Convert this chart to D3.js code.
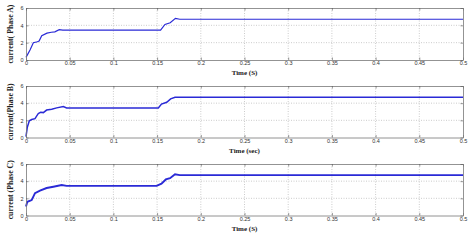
<!DOCTYPE html>
<html>
<head>
<meta charset="utf-8">
<script src="https://cdn.jsdelivr.net/npm/d3@7"></script>
<style>
  body { margin: 0; background: #fff; }
  svg { display: block; }
  .tick text { font-family: Arial, "Liberation Sans", sans-serif; font-size: 5.5px; fill: #333; }
  .lbl { font-family: "Liberation Serif", "DejaVu Serif", serif; font-weight: bold; font-size: 7px; fill: #222; }
  .ylbl { font-size: 7.8px; }
</style>
</head>
<body>
<script>
// time (s) and current values
const phaseA = [[0,0.3],[0.0046,1.15],[0.0084,2.0],[0.013,2.1],[0.015,2.2],[0.018,2.8],[0.024,3.1],
  [0.029,3.2],[0.033,3.25],[0.038,3.5],[0.042,3.45],[0.154,3.45],[0.159,4.1],[0.165,4.3],
  [0.171,4.8],[0.176,4.7],[0.5,4.7]];
const phaseB = [[0,0.1],[0.0015,1.2],[0.0038,1.95],[0.0065,2.1],[0.0103,2.2],[0.0141,2.8],[0.0168,2.95],
  [0.0198,2.9],[0.0236,3.2],[0.0294,3.3],[0.0351,3.45],[0.0427,3.6],[0.0465,3.45],[0.1514,3.45],
  [0.155,3.9],[0.161,4.1],[0.1655,4.5],[0.1705,4.68],[0.5,4.7]];
const phaseC = [[0,1.05],[0.0015,1.6],[0.0065,1.8],[0.0103,2.6],[0.016,2.9],[0.0236,3.2],[0.0313,3.35],
  [0.0408,3.55],[0.0465,3.45],[0.1495,3.45],[0.155,3.7],[0.16,4.2],[0.1648,4.35],[0.1705,4.8],
  [0.176,4.7],[0.5,4.7]];
const xTicks = [0,0.05,0.1,0.15,0.2,0.25,0.3,0.35,0.4,0.45,0.5];
const yTicks = [0,2,4,6];

const panels = [
  {data: phaseA, ylabel: "current( Phase A)", xlabel: "Time (S)", top: 8, bottom: 60, lw: 1.2},
  {data: phaseB, ylabel: "current(Phase B)", xlabel: "Time (sec)", top: 86, bottom: 137.5, lw: 1.5},
  {data: phaseC, ylabel: "current (Phase C)", xlabel: "Time (S)", top: 164, bottom: 215.5, lw: 1.9}
];

const left = 26, right = 463;
const svg = d3.select("body").append("svg").attr("width", 474).attr("height", 248);
const x = d3.scaleLinear().domain([0, 0.5]).range([left, right]);

panels.forEach(p => {
  const y = d3.scaleLinear().domain([0, 6]).range([p.bottom, p.top]);
  const g = svg.append("g");

  // dotted grid
  g.selectAll(".vg").data(xTicks.slice(1, -1)).enter().append("line")
    .attr("x1", d => x(d)).attr("x2", d => x(d)).attr("y1", p.top).attr("y2", p.bottom)
    .attr("stroke", "#aaa").attr("stroke-width", 0.6).attr("stroke-dasharray", "1,1.5");
  g.selectAll(".hg").data(yTicks.slice(1, -1)).enter().append("line")
    .attr("x1", left).attr("x2", right).attr("y1", d => y(d)).attr("y2", d => y(d))
    .attr("stroke", "#aaa").attr("stroke-width", 0.6).attr("stroke-dasharray", "1,1.5");

  // trace
  const line = d3.line().x(d => x(d[0])).y(d => y(d[1]));
  g.append("path").datum(p.data).attr("d", line)
    .attr("fill", "none").attr("stroke", "#2a2ad6").attr("stroke-width", p.lw);

  // axes with inner ticks
  g.append("g").attr("transform", `translate(0,${p.bottom})`)
    .call(d3.axisBottom(x).tickValues(xTicks).tickFormat(d3.format("")).tickSizeInner(-2.5).tickSizeOuter(0).tickPadding(1.5));
  g.append("g").attr("transform", `translate(${left},0)`)
    .call(d3.axisLeft(y).tickValues(yTicks).tickFormat(d3.format("d")).tickSizeInner(-2.5).tickSizeOuter(0).tickPadding(2.5));
  g.append("g").attr("transform", `translate(0,${p.top})`)
    .call(d3.axisTop(x).tickValues(xTicks).tickFormat("").tickSizeInner(-2.5).tickSizeOuter(0));
  g.append("g").attr("transform", `translate(${right},0)`)
    .call(d3.axisRight(y).tickValues(yTicks).tickFormat("").tickSizeInner(-2.5).tickSizeOuter(0));
  g.selectAll(".domain").attr("stroke", "#777").attr("stroke-width", 0.8);
  g.selectAll(".tick line").attr("stroke", "#555").attr("stroke-width", 0.6);

  g.append("text").attr("class", "lbl")
    .attr("x", (left + right) / 2).attr("y", p.bottom + 15)
    .attr("text-anchor", "middle").text(p.xlabel);
  g.append("text").attr("class", "lbl ylbl")
    .attr("transform", `translate(12.5,${(p.top + p.bottom) / 2}) rotate(-90)`)
    .attr("text-anchor", "middle").text(p.ylabel);
});
</script>
</body>
</html>
